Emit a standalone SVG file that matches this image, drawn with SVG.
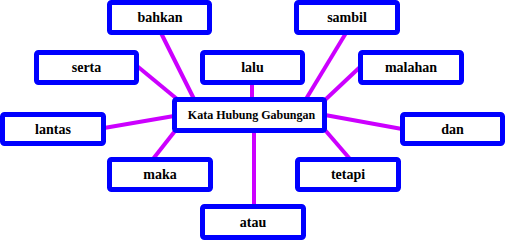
<svg xmlns="http://www.w3.org/2000/svg" width="506" height="240" viewBox="0 0 506 240">
<style>
.box{fill:#fff;stroke:#0000ff;stroke-width:5}
.t{font-family:"Liberation Serif","Times New Roman",serif;font-weight:bold;font-size:14px;fill:#000;text-anchor:middle}
.h{font-size:12px}
.c line{stroke:#cc00ff;stroke-width:4}
</style>
<rect width="506" height="240" fill="#fff"/>
<g class="c" id="connectors">
<line x1="161" y1="33" x2="194" y2="99"/>
<line x1="137" y1="66" x2="177" y2="99"/>
<line x1="104" y1="128" x2="174" y2="116"/>
<line x1="252" y1="83" x2="252" y2="99"/>
<line x1="346" y1="33" x2="306" y2="99"/>
<line x1="360" y1="67" x2="325" y2="100"/>
<line x1="325" y1="115" x2="402" y2="129"/>
<line x1="325" y1="130" x2="350" y2="159"/>
<line x1="175" y1="131" x2="153" y2="159"/>
<line x1="254" y1="131" x2="254" y2="206"/>
</g>
<g id="bahkan"><rect class="box" x="109.5" y="2.5" width="100" height="30" rx="2"/><text class="t" x="160" y="22">bahkan</text></g>
<g id="sambil"><rect class="box" x="296.5" y="2.5" width="101" height="30" rx="2"/><text class="t" x="347" y="22">sambil</text></g>
<g id="serta"><rect class="box" x="36.5" y="52.5" width="100" height="30" rx="2"/><text class="t" x="86.5" y="72">serta</text></g>
<g id="lalu"><rect class="box" x="202.5" y="52.5" width="100" height="30" rx="2"/><text class="t" x="252.5" y="72">lalu</text></g>
<g id="malahan"><rect class="box" x="360.5" y="52.5" width="101" height="30" rx="2"/><text class="t" x="411" y="72">malahan</text></g>
<g id="hub"><rect class="box" x="174.5" y="99.5" width="150" height="31" rx="2"/><text class="t h" x="251.5" y="119">Kata Hubung Gabungan</text></g>
<g id="lantas"><rect class="box" x="2.5" y="114.5" width="101" height="29" rx="2"/><text class="t" x="53" y="134">lantas</text></g>
<g id="dan"><rect class="box" x="402.5" y="114.5" width="100" height="29" rx="2"/><text class="t" x="452.5" y="134">dan</text></g>
<g id="maka"><rect class="box" x="109.5" y="159.5" width="101" height="30" rx="2"/><text class="t" x="160" y="179">maka</text></g>
<g id="tetapi"><rect class="box" x="297.5" y="159.5" width="101" height="30" rx="2"/><text class="t" x="348" y="179">tetapi</text></g>
<g id="atau"><rect class="box" x="202.5" y="206.5" width="101" height="31" rx="2"/><text class="t" x="253" y="227">atau</text></g>
</svg>
